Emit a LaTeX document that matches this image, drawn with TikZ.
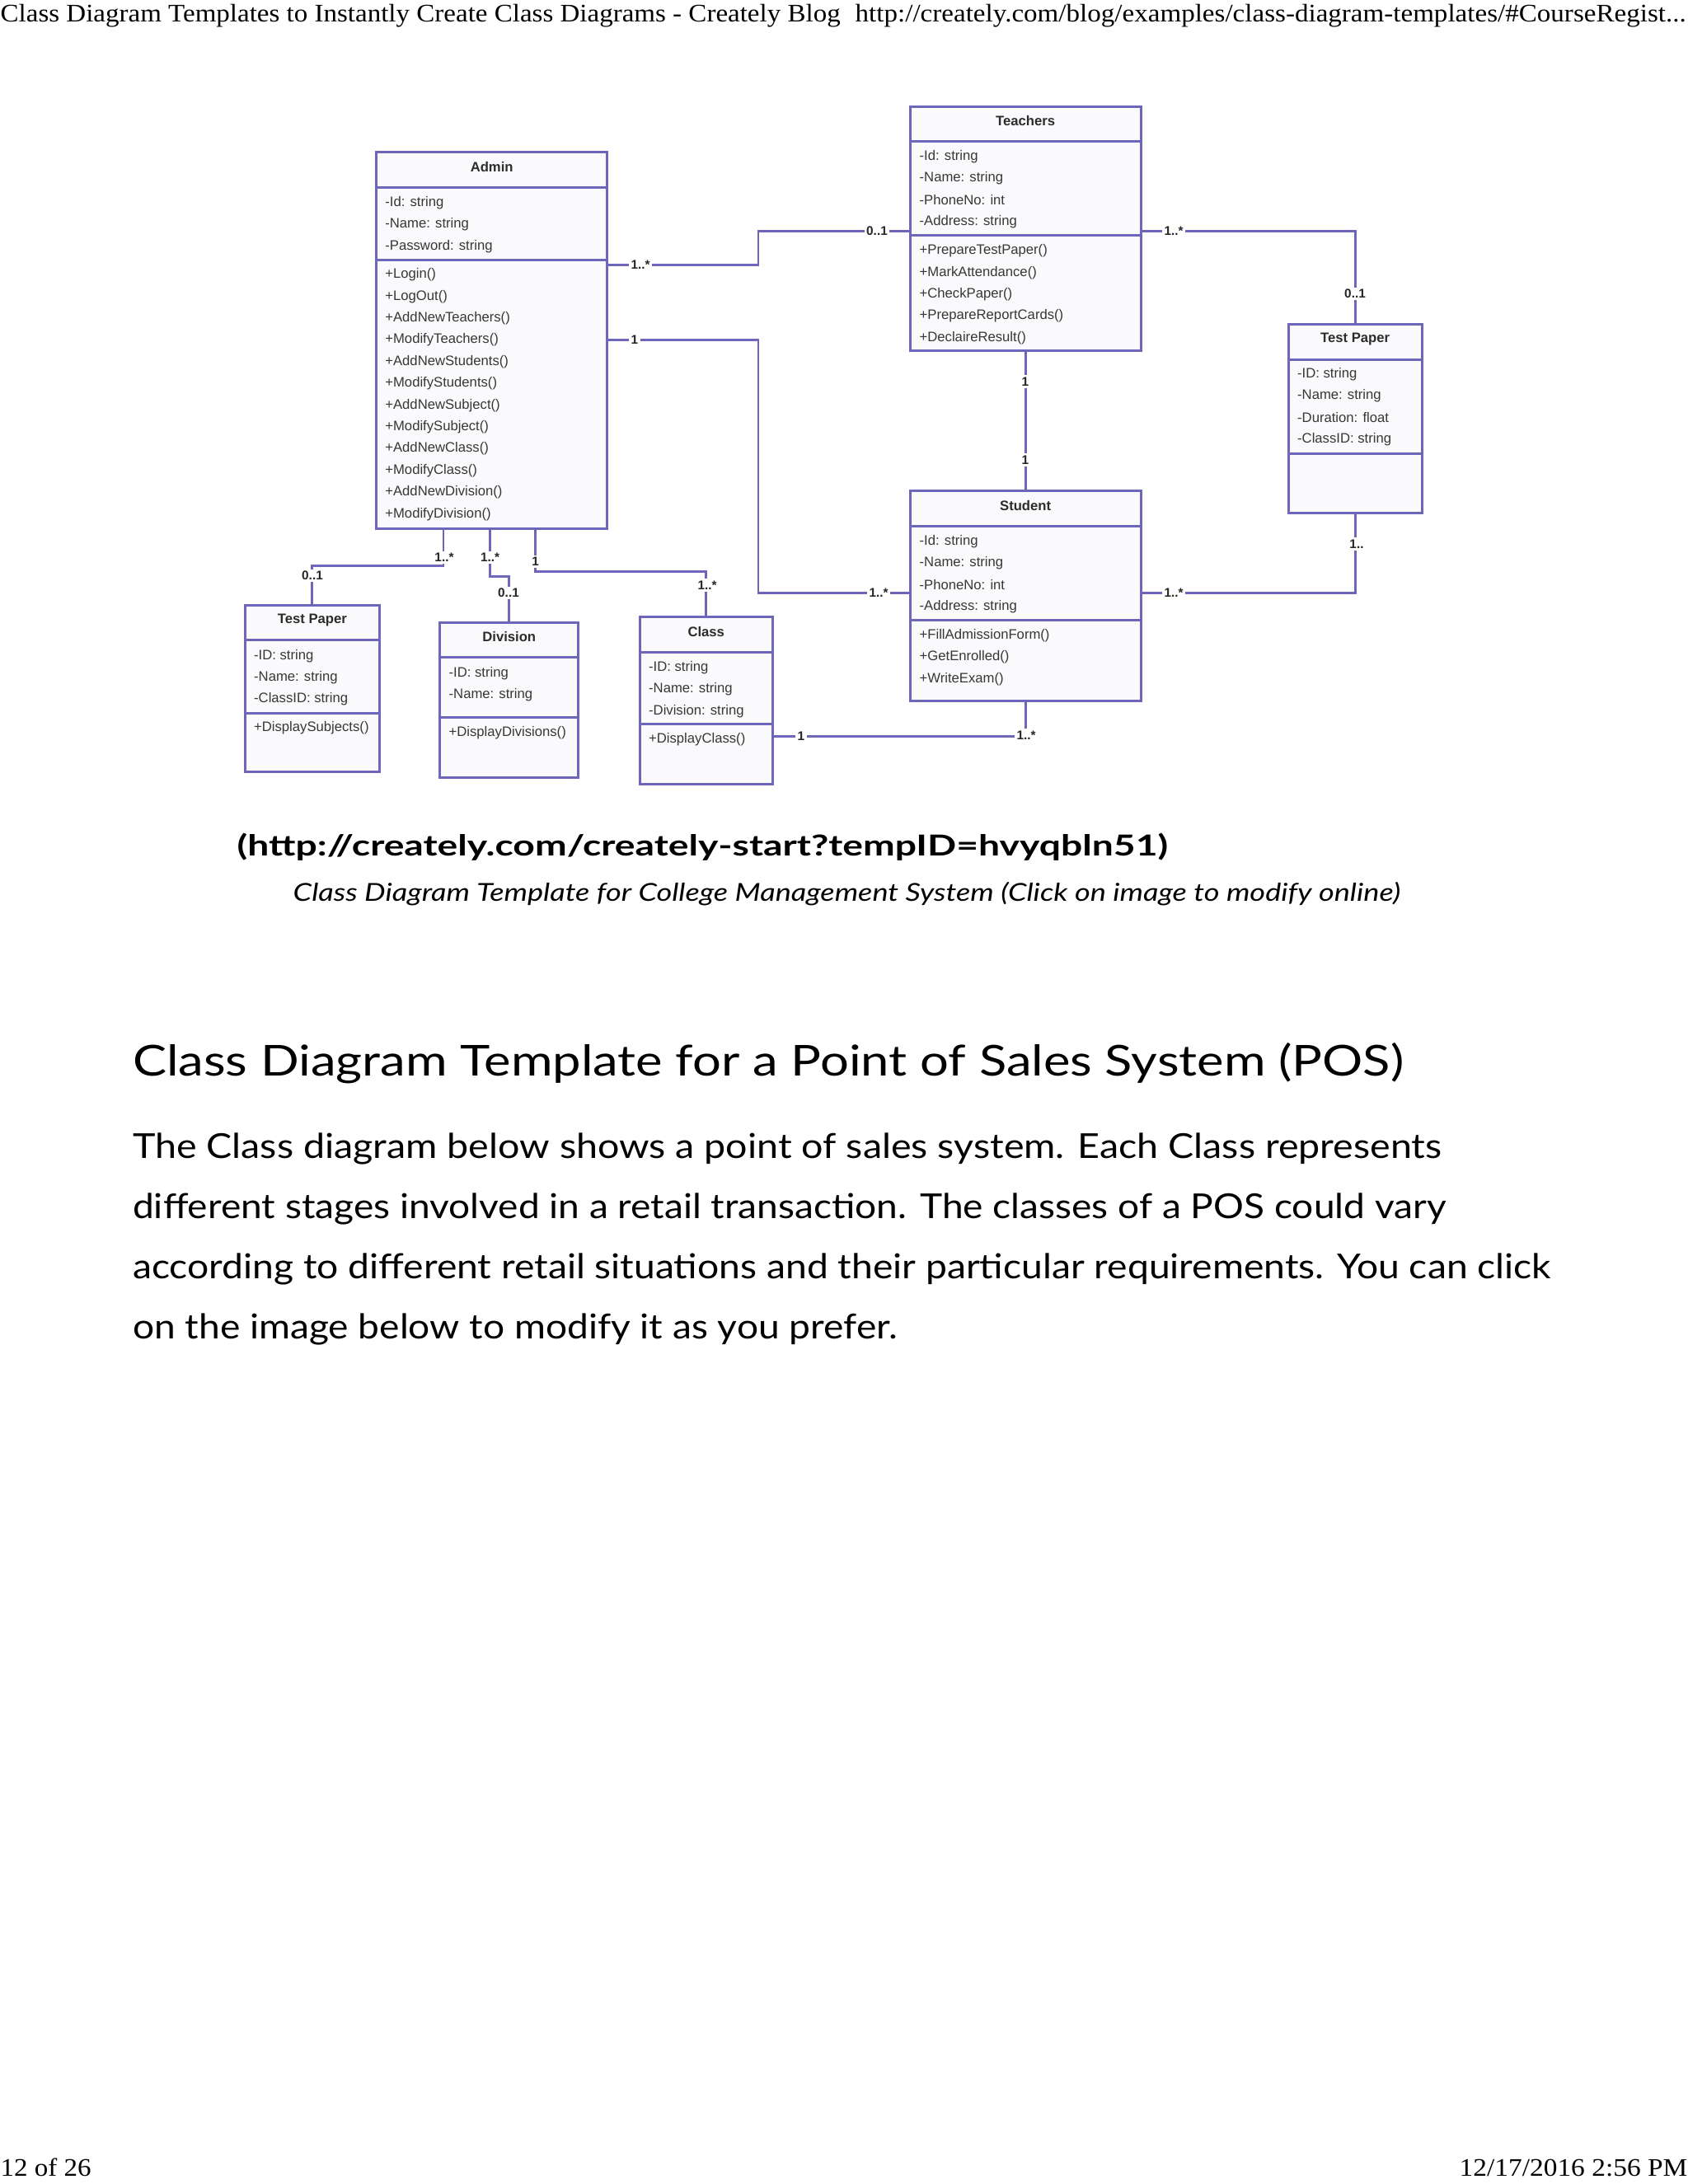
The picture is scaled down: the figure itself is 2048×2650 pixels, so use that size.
\documentclass[tikz,border=0pt]{standalone}
\usepackage{fontspec}
\usepackage{graphicx}
\newfontfamily\umlfont{Liberation Sans}
\newfontfamily\hdrfont{Liberation Serif}
\newfontfamily\webfont{Lato}
\definecolor{umlline}{RGB}{110,102,186}
\definecolor{umlfill}{RGB}{250,250,252}
\definecolor{umltext}{RGB}{55,55,55}
\newcommand\fitw[2]{\resizebox{#1}{\height}{#2}}
\tikzset{
  classbox/.style={draw=umlline, line width=0.9pt, fill=umlfill, inner sep=0pt, outer sep=0pt},
  classline/.style={draw=umlline, line width=0.9pt},
  classtitle/.style={font=\umlfont\fontsize{5}{6}\selectfont\bfseries, text=umltext!80!black, inner sep=0pt},
  member/.style={font=\umlfont\fontsize{5}{6}\selectfont, text=umltext, anchor=west, inner sep=0pt},
  conn/.style={draw=umlline, line width=0.85pt},
  mult/.style={font=\umlfont\fontsize{4.6}{5}\selectfont\bfseries, text=black!85, fill=white, inner sep=0.7pt},
  pagetext/.style={inner sep=0pt, anchor=base west, text=black},
}
\newcommand\umlclass[8]{%
  \node[classbox, anchor=north west, minimum width={(#4-#2)*0.3pt}, minimum height={(#5-#3)*0.3pt}] (#1) at (#2,#3) {};
  \draw[classline] (#2,#6) -- (#4,#6);
  \draw[classline] (#2,#7) -- (#4,#7);
  \node[classtitle] (#1-t) at ({(#2+#4)/2},{(#3+#6)/2-3.5}) {#8};
}
\begin{document}
\begin{tikzpicture}[x=0.3pt,y=-0.3pt]
\useasboundingbox (0,0) rectangle (2048,2650);
\fill[white] (0,0) rectangle (2048,2650);

% page header and footer
\node[pagetext, font=\hdrfont\fontsize{9.2}{10}\selectfont] (hdr1) at (0,26) {\fitw{305.7pt}{Class Diagram Templates to Instantly Create Class Diagrams - Creately Blog}};
\node[pagetext, font=\hdrfont\fontsize{9.2}{10}\selectfont] (hdr2) at (1037,26) {\fitw{302.4pt}{http://creately.com/blog/examples/class-diagram-templates/\#CourseRegist...}};
\node[pagetext, font=\hdrfont\fontsize{9.2}{10}\selectfont] (ftr1) at (0,2640) {\fitw{33pt}{12 of 26}};
\node[pagetext, font=\hdrfont\fontsize{9.2}{10}\selectfont, anchor=base east] (ftr2) at (2048,2640) {\fitw{83pt}{12/17/2016 2:56 PM}};

% classes
\umlclass{admin}{456.7}{184.3}{736.7}{641}{227.3}{315}{Admin}
\foreach \t [count=\i] in {-Id: string,-Name: string,-Password: string}
  \node[member] (admin-a\i) at (466.7,{246+(\i-1)*26.4}) {\t};
\foreach \t [count=\i] in {+Login(),+LogOut(),+AddNewTeachers(),+ModifyTeachers(),+AddNewStudents(),+ModifyStudents(),+AddNewSubject(),+ModifySubject(),+AddNewClass(),+ModifyClass(),+AddNewDivision(),+ModifyDivision()}
  \node[member] (admin-m\i) at (466.7,{333.3+(\i-1)*26.4}) {\t};

\umlclass{teachers}{1104.3}{129}{1384}{425.7}{171.7}{285.7}{Teachers}
\foreach \t [count=\i] in {-Id: string,-Name: string,-PhoneNo: int,-Address: string}
  \node[member] (teachers-a\i) at (1115,{190+(\i-1)*26.4}) {\t};
\foreach \t [count=\i] in {+PrepareTestPaper(),+MarkAttendance(),+CheckPaper(),+PrepareReportCards(),+DeclaireResult()}
  \node[member] (teachers-m\i) at (1115,{304.3+(\i-1)*26.4}) {\t};

\umlclass{student}{1104.3}{595}{1384}{850}{638.3}{752.7}{Student}
\foreach \t [count=\i] in {-Id: string,-Name: string,-PhoneNo: int,-Address: string}
  \node[member] (student-a\i) at (1115,{656.7+(\i-1)*26.4}) {\t};
\foreach \t [count=\i] in {+FillAdmissionForm(),+GetEnrolled(),+WriteExam()}
  \node[member] (student-m\i) at (1115,{771+(\i-1)*26.4}) {\t};

\umlclass{tpr}{1563.3}{393.3}{1725}{622.7}{436}{550.7}{Test Paper}
\foreach \t [count=\i] in {-ID: string,-Name: string,-Duration: float,-ClassID: string}
  \node[member] (tpr-a\i) at (1573.5,{454+(\i-1)*26.4}) {\t};

\umlclass{tpl}{297}{734.3}{460.8}{936.7}{776.7}{865}{Test Paper}
\foreach \t [count=\i] in {-ID: string,-Name: string,-ClassID: string}
  \node[member] (tpl-a\i) at (307.5,{795.7+(\i-1)*26.4}) {\t};
\node[member] (tpl-m1) at (307.5,883.3) {+DisplaySubjects()};

\umlclass{division}{533.6}{755}{701.9}{943.3}{797.3}{870}{Division}
\foreach \t [count=\i] in {-ID: string,-Name: string}
  \node[member] (division-a\i) at (544,{816.7+(\i-1)*26.4}) {\t};
\node[member] (division-m1) at (544,889) {+DisplayDivisions()};

\umlclass{class}{776.4}{748.3}{937.1}{951.7}{791.7}{878.3}{Class}
\foreach \t [count=\i] in {-ID: string,-Name: string,-Division: string}
  \node[member] (class-a\i) at (786.5,{810+(\i-1)*26.4}) {\t};
\node[member] (class-m1) at (786.5,897.3) {+DisplayClass()};

% connectors
\draw[conn] (admin.east |- 0,321.7) -- (920,321.7) |- (teachers.west |- 0,280.7);
\draw[conn] (admin.east |- 0,412.7) -| (920,719.3) -- (student.west |- 0,719.3);
\draw[conn] (teachers.east |- 0,280.7) -| (tpr.north);
\draw[conn] (student.east |- 0,719.3) -| (tpr.south);
\draw[conn] (teachers.south) -- (student.north);
\draw[conn] (class.east |- 0,893.3) -| (student.south);
\draw[conn] (admin.south -| 538,0) |- (tpl.north |- 0,686.7) -- (tpl.north);
\draw[conn] (admin.south -| 594.7,0) |- (division.north |- 0,699.3) -- (division.north);
\draw[conn] (admin.south -| 649.6,0) |- (class.north |- 0,693.3) -- (class.north);

% multiplicities
\node[mult] (m1) at (777,321.7) {1..*};
\node[mult] (m2) at (1064,280.7) {0..1};
\node[mult] (m3) at (770,412.7) {1};
\node[mult] (m4) at (1066,719.3) {1..*};
\node[mult] (m5) at (1424,280.7) {1..*};
\node[mult] (m6) at (1644,356.7) {0..1};
\node[mult] (m7) at (1646,660) {1..};
\node[mult] (m8) at (1424,719.3) {1..*};
\node[mult] (m9) at (1244,463) {1};
\node[mult] (m10) at (1244,558) {1};
\node[mult] (m11) at (972,893.3) {1};
\node[mult] (m12) at (1245,892) {1..*};
\node[mult] (m13) at (539,676.7) {1..*};
\node[mult] (m14) at (379,698.3) {0..1};
\node[mult] (m15) at (594.7,676.7) {1..*};
\node[mult] (m16) at (617,719.3) {0..1};
\node[mult] (m17) at (649.6,681.7) {1};
\node[mult] (m18) at (858,710) {1..*};

% captions
\node[pagetext, font=\webfont\fontsize{10.5}{12}\selectfont\bfseries] (url) at (287,1038) {\fitw{338.7pt}{(http://creately.com/creately-start?tempID=hvyqbln51)}};
\node[pagetext, font=\webfont\fontsize{9}{11}\selectfont\itshape] (cap) at (355,1093) {\fitw{403pt}{Class Diagram Template for College Management System (Click on image to modify online)}};

\node[pagetext, font=\webfont\fontsize{15.5}{18}\selectfont] (head) at (160.5,1305) {\fitw{462.6pt}{Class Diagram Template for a Point of Sales System (POS)}};
\node[pagetext, font=\webfont\fontsize{12.5}{15}\selectfont] (p1) at (160.5,1405) {\fitw{476.5pt}{The Class diagram below shows a point of sales system. Each Class represents}};
\node[pagetext, font=\webfont\fontsize{12.5}{15}\selectfont] (p2) at (160.5,1478) {\fitw{478pt}{different stages involved in a retail transaction. The classes of a POS could vary}};
\node[pagetext, font=\webfont\fontsize{12.5}{15}\selectfont] (p3) at (160.5,1551) {\fitw{516.2pt}{according to different retail situations and their particular requirements. You can click}};
\node[pagetext, font=\webfont\fontsize{12.5}{15}\selectfont] (p4) at (160.5,1624) {\fitw{278.3pt}{on the image below to modify it as you prefer.}};
\end{tikzpicture}
\end{document}
